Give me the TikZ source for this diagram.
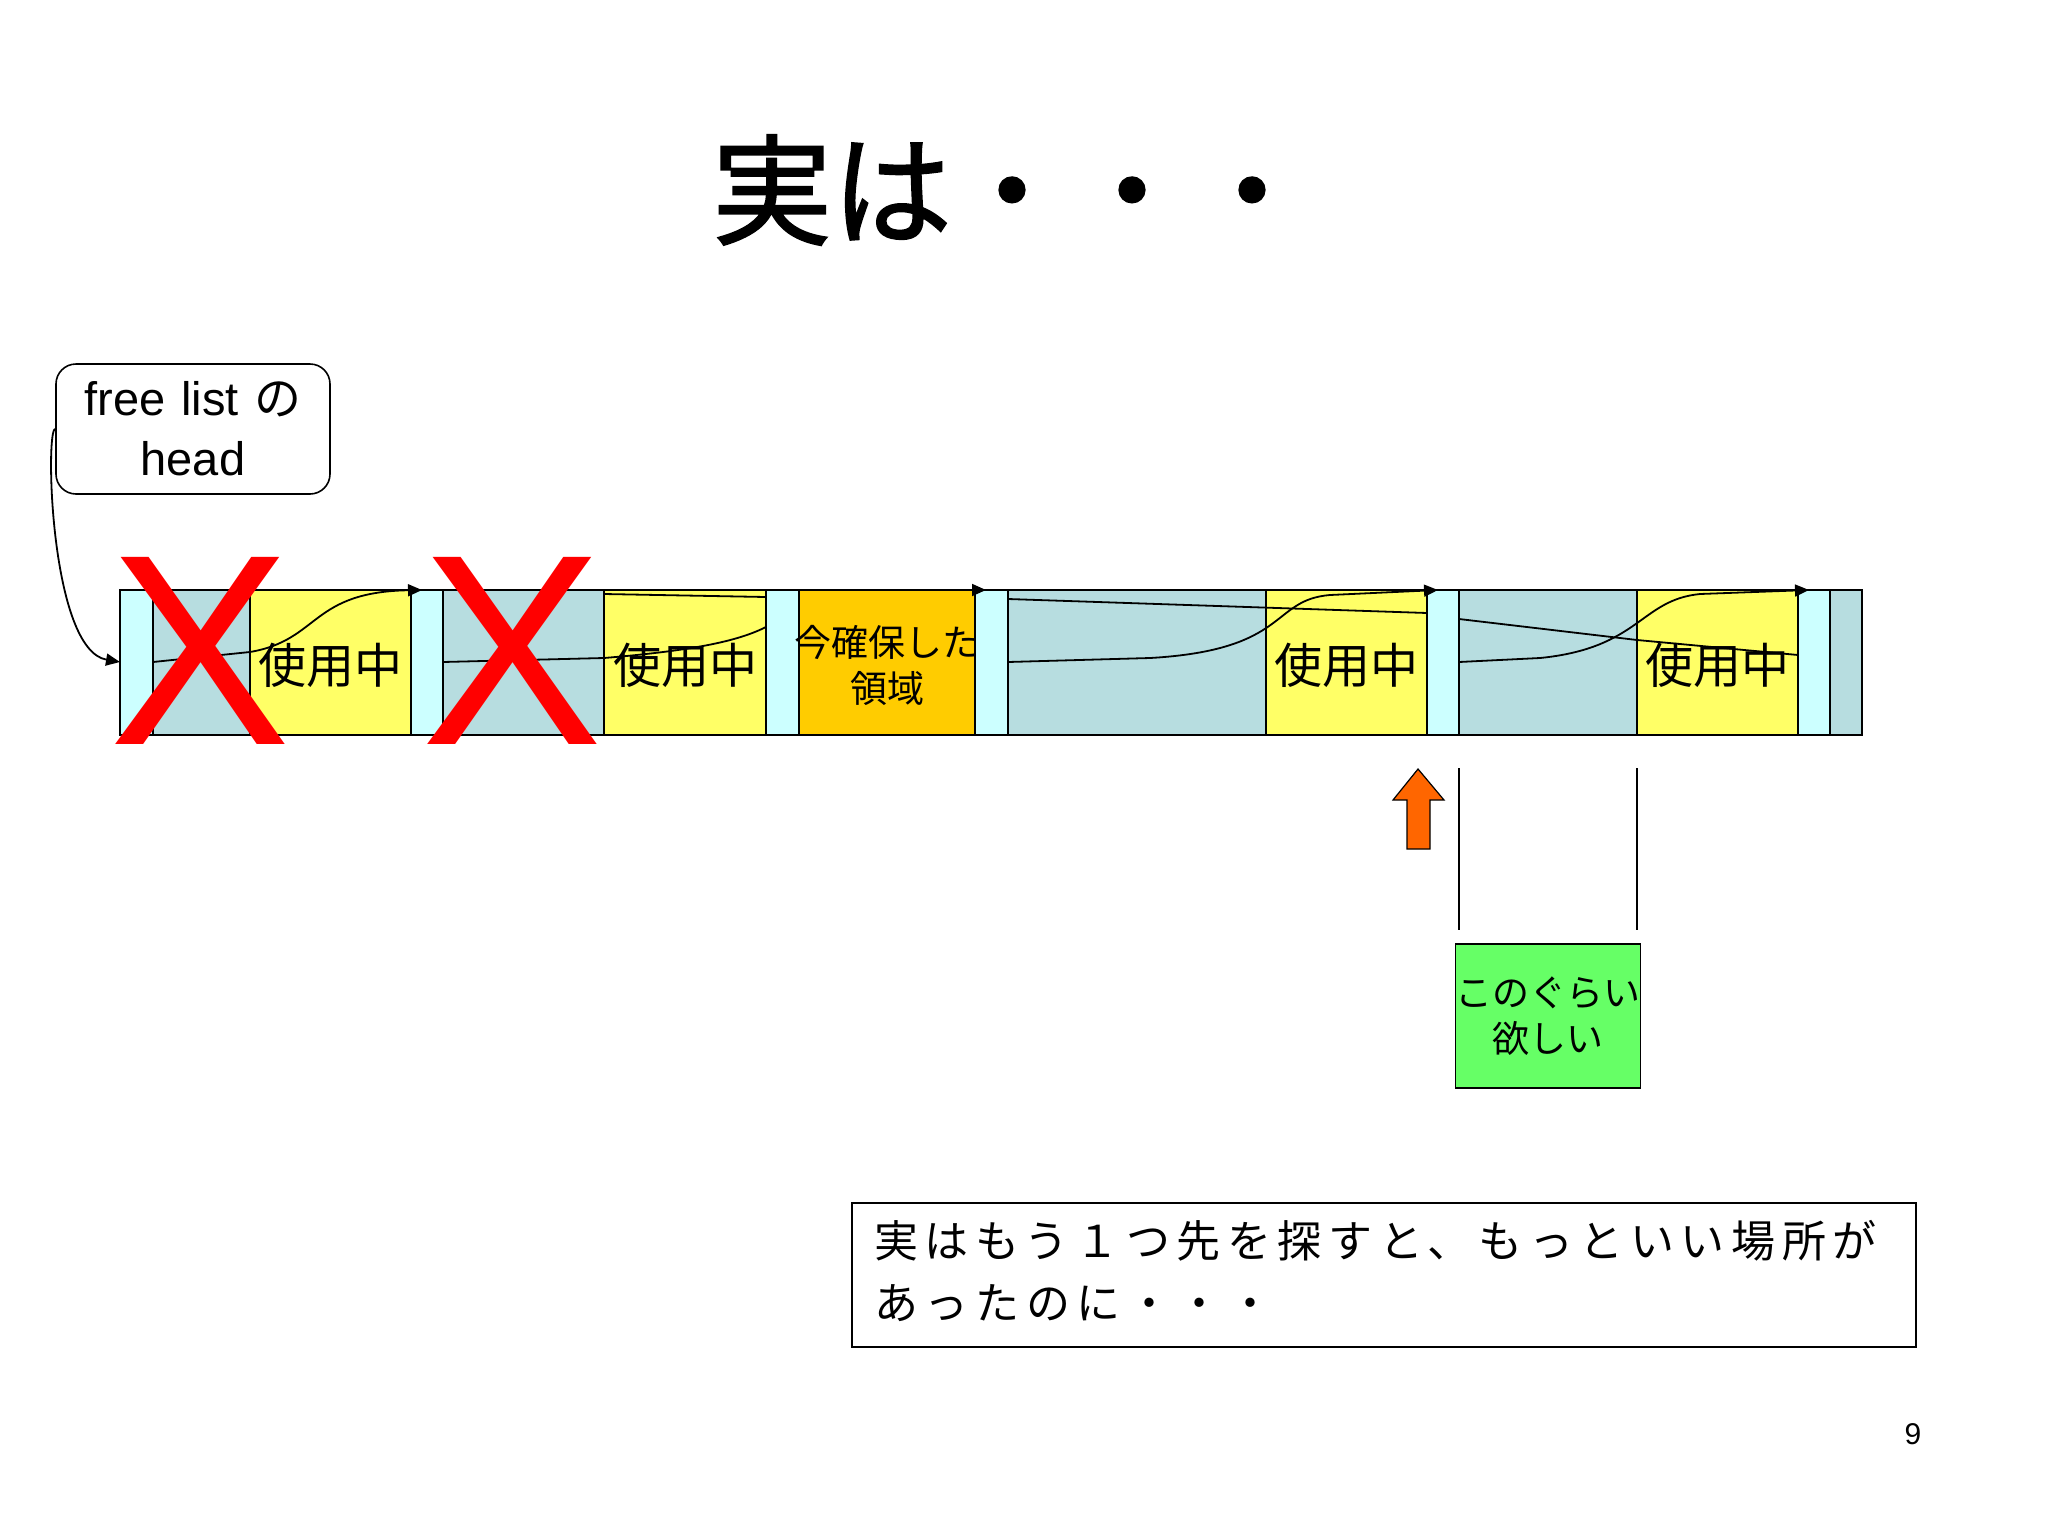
\documentclass[tikz,border=0pt]{standalone}
\usepackage{fontspec}
\setmainfont{Liberation Sans}
\newfontfamily\jp{Noto Sans CJK JP}
\usetikzlibrary{arrows.meta}
\definecolor{hdr}{RGB}{204,255,255}
\definecolor{freeb}{RGB}{183,221,224}
\definecolor{used}{RGB}{255,255,102}
\definecolor{got}{RGB}{255,204,0}
\definecolor{want}{RGB}{102,255,102}
\definecolor{uparr}{RGB}{255,102,0}
\tikzset{blk/.style={draw=black,line width=0.8pt},
 lnk/.style={line width=0.9pt},
 lnka/.style={lnk,-{Triangle[length=7pt,width=6pt]}},
 usedtxt/.style={font=\jp\fontsize{24}{28}\selectfont},
 xmark/.style={text=red,inner sep=0pt,font=\fontsize{136}{136}\selectfont}}
\begin{document}
\begin{tikzpicture}[x=0.5pt,y=-0.5pt]
\fill[white] (0,0) rectangle (2048,1536);
\node[font=\jp\fontsize{60}{66}\selectfont\addfontfeature{FakeBold=1.5}] (title) at (1012,190) {実は・・・};
% blocks
\path[blk,fill=hdr] (120,590) rectangle (153,735);
\path[blk,fill=freeb] (153,590) rectangle (250,735);
\path[blk,fill=used] (250,590) rectangle (411,735);
\path[blk,fill=hdr] (411,590) rectangle (443,735);
\path[blk,fill=freeb] (443,590) rectangle (604,735);
\path[blk,fill=used] (604,590) rectangle (766,735);
\path[blk,fill=hdr] (766,590) rectangle (799,735);
\path[blk,fill=got] (799,590) rectangle (975,735);
\path[blk,fill=hdr] (975,590) rectangle (1008,735);
\path[blk,fill=freeb] (1008,590) rectangle (1266,735);
\path[blk,fill=used] (1266,590) rectangle (1427,735);
\path[blk,fill=hdr] (1427,590) rectangle (1459,735);
\path[blk,fill=freeb] (1459,590) rectangle (1637,735);
\path[blk,fill=used] (1637,590) rectangle (1798,735);
\path[blk,fill=hdr] (1798,590) rectangle (1830,735);
\path[blk,fill=freeb] (1830,590) rectangle (1862,735);
% links
\coordinate (h1) at (153,662); \coordinate (h2t) at (422,590);
\coordinate (h2) at (443,662); \coordinate (h3) at (766,627);
\coordinate (c1) at (604,594); \coordinate (c2) at (766,597);
\coordinate (c3) at (800,590); \coordinate (h4t) at (986,590);
\coordinate (d1) at (1008,599); \coordinate (d2) at (1427,613);
\coordinate (h4) at (1008,662); \coordinate (h5t) at (1438,590);
\coordinate (f1) at (1459,619); \coordinate (f2) at (1798,655);
\coordinate (h5) at (1459,662); \coordinate (h6t) at (1809,590);
\draw[lnka] (h1) -- (250,652) .. controls (320,640) and (310,592) .. (h2t);
\draw[lnk] (h2) -- (604,658) .. controls (700,650) and (740,640) .. (h3);
\draw[lnk] (c1) -- (c2);
\draw[lnka] (c3) -- (h4t);
\draw[lnk] (d1) -- (d2);
\draw[lnka] (h4) -- (1150,658) .. controls (1290,650) and (1270,600) .. (1330,595) -- (h5t);
\draw[lnk] (f1) -- (1637,640) -- (f2);
\draw[lnka] (h5) -- (1540,658) .. controls (1640,648) and (1640,600) .. (1700,594) -- (h6t);
% labels
\node[usedtxt] (u1) at (330,665) {使用中};
\node[usedtxt] (u2) at (685,665) {使用中};
\node[usedtxt] (u3) at (1346,665) {使用中};
\node[usedtxt] (u4) at (1717,665) {使用中};
\node[font=\jp\fontsize{18.5}{23}\selectfont,align=center] (got) at (887,665) {今確保した\\領域};
% crosses
\node[xmark,anchor=base] (x1) at (200,744) {X};
\node[xmark,anchor=base] (x2) at (512,744) {X};
% free list head
\node[draw,rounded corners=10pt,line width=0.8pt,minimum width=274pt/2,minimum height=130pt/2,align=center,font=\fontsize{23.5}{30}\selectfont,text width=130pt] (fl) at (193,429) {free list {\jp の}\\head};
\coordinate (flin) at (120,662);
\draw[lnka] (fl.west) .. controls ([xshift=-5pt]fl.west) and (50,650) .. (flin);
% orange arrow
\path[draw=black,fill=uparr,line width=0.6pt] (1407,849) -- (1430,849) -- (1430,800) -- (1444,800) -- (1418,769) -- (1393,800) -- (1407,800) -- cycle;
\draw[line width=0.8pt] (1459,768) -- (1459,930) (1637,768) -- (1637,930);
\node[draw,fill=want,line width=0.8pt,minimum width=89pt,minimum height=72pt,inner sep=0pt,align=center,font=\jp\fontsize{18.5}{23}\selectfont] (want) at (1548,1016) {このぐらい\\欲しい};
\node[draw,line width=0.8pt,minimum width=532pt,minimum height=72pt,inner sep=0pt] (note) at (1384,1275) {};
\node[anchor=north west,align=left,font=\jp\fontsize{22}{31}\selectfont\addfontfeature{LetterSpace=15},inner sep=0pt] (notet) at (874,1220) {実はもう１つ先を探すと、もっといい場所が\\あったのに・・・};
\node[font=\fontsize{15}{18}\selectfont] (pg) at (1913,1434) {9};
\end{tikzpicture}
\end{document}
